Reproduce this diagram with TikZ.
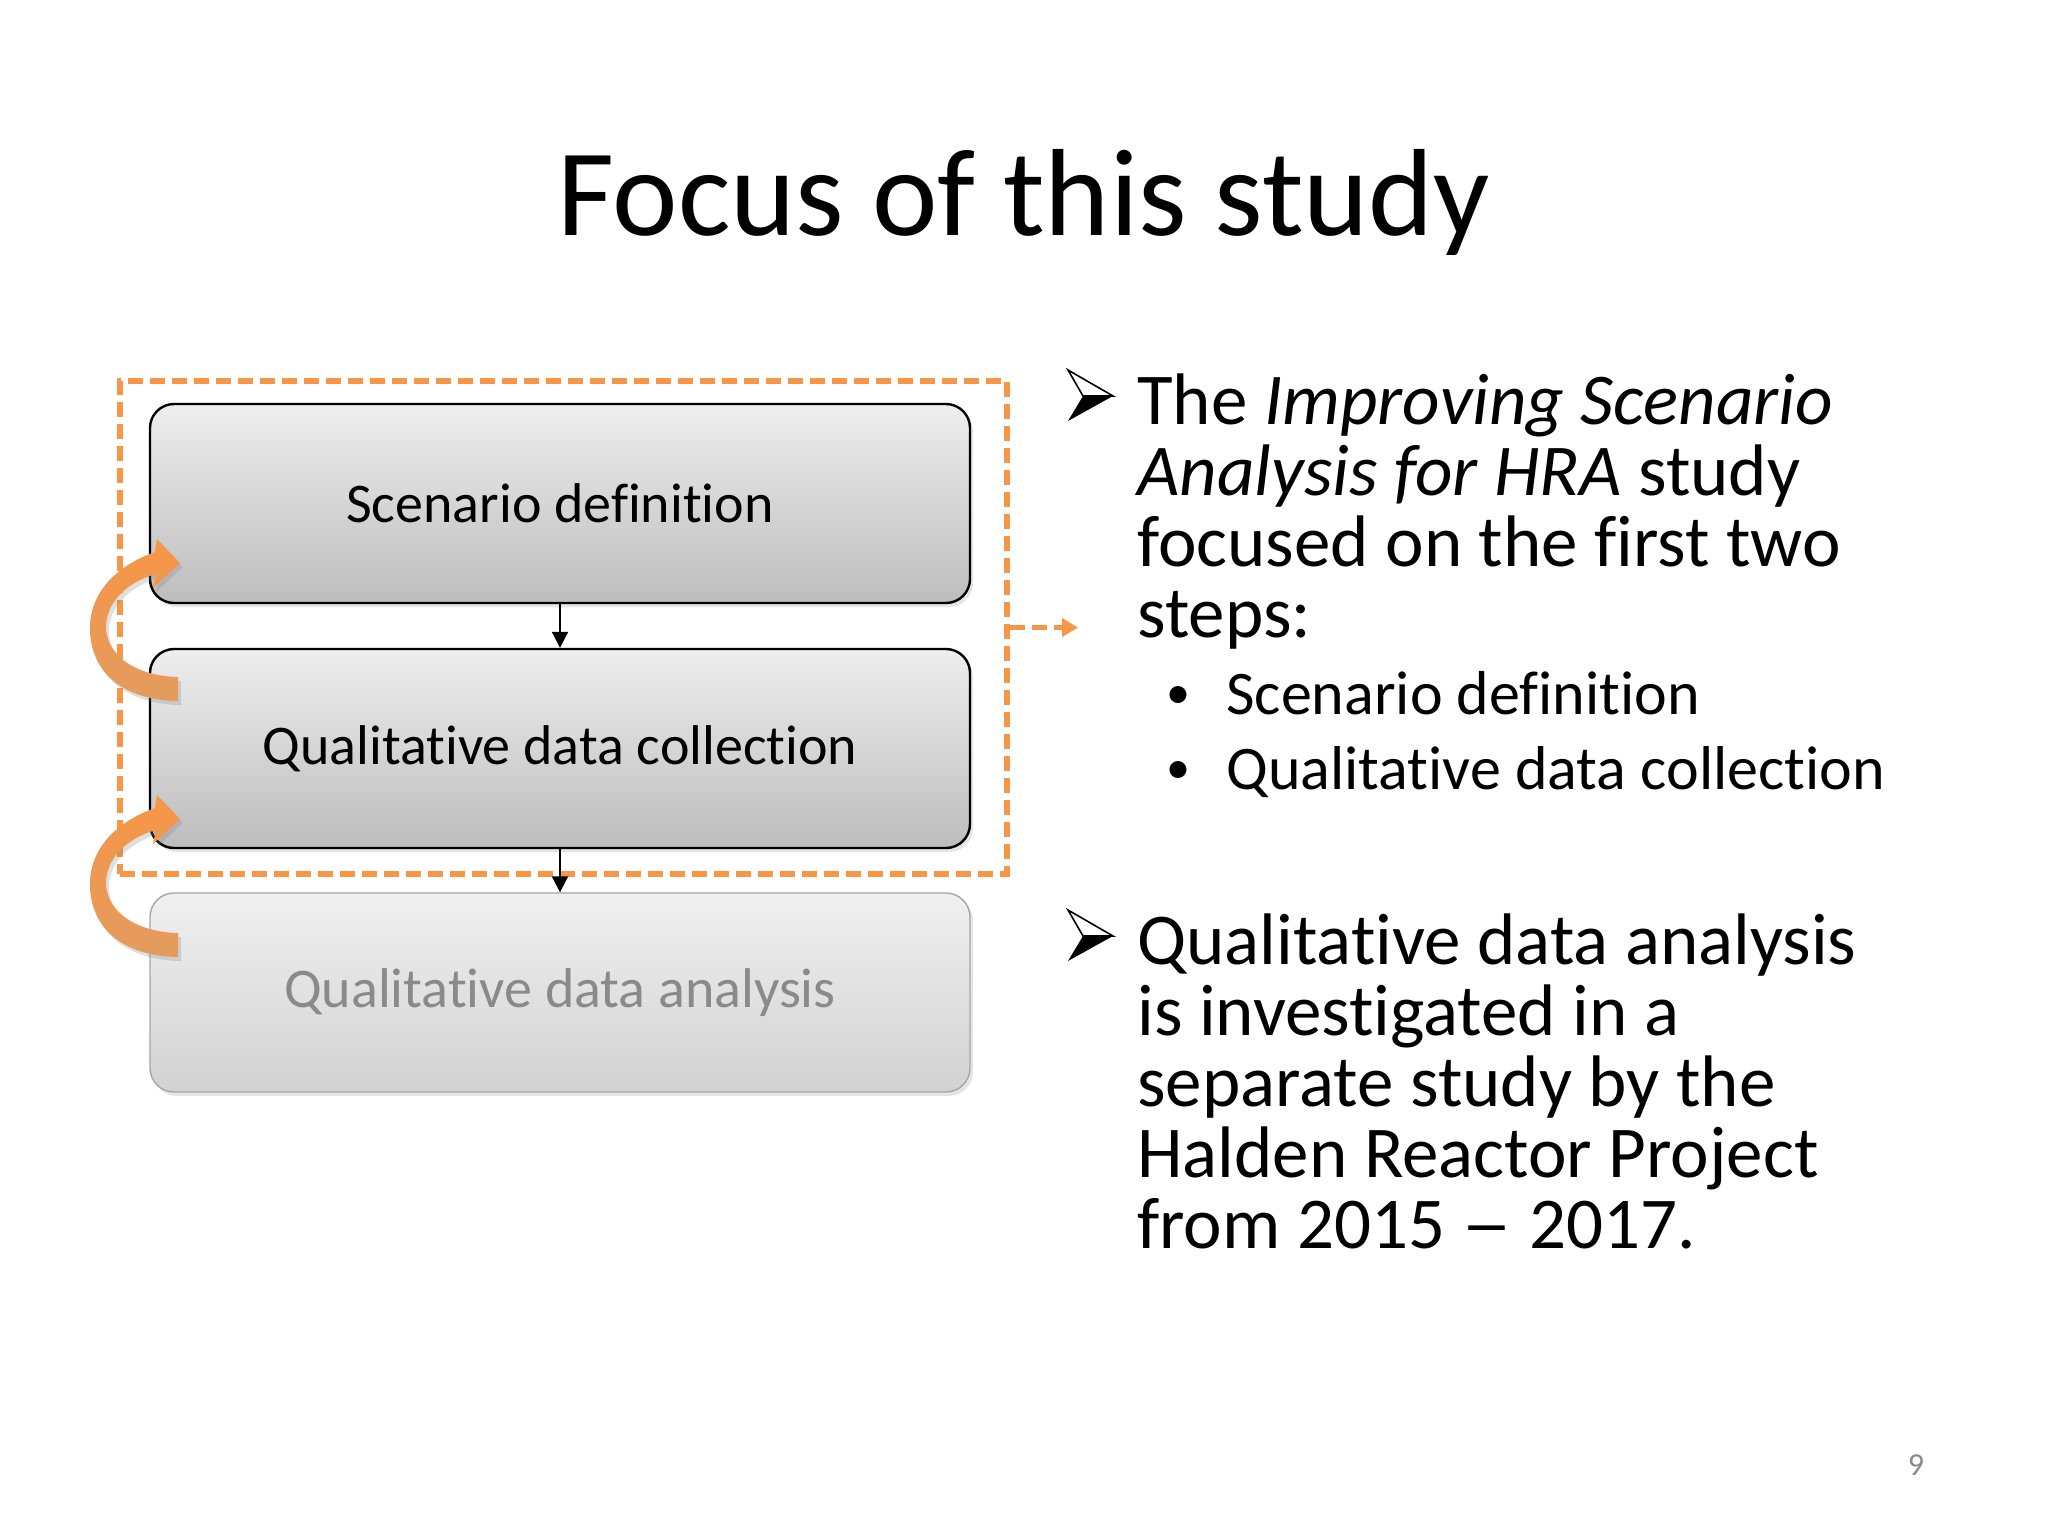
\documentclass[tikz,border=0pt]{standalone}
\usepackage{graphicx}
\usepackage{fontspec}
\setmainfont{Carlito}[Ligatures={TeX,NoCommon}]
\usetikzlibrary{arrows.meta,shadows}
\definecolor{orangeC}{HTML}{F79646}
\definecolor{orangeT}{HTML}{E39B5F}
\definecolor{boxTop}{HTML}{EEEEEE}
\definecolor{boxBot}{HTML}{BDBDBD}
\definecolor{fadeTop}{HTML}{F0F0F0}
\definecolor{fadeBot}{HTML}{D2D2D2}
\definecolor{fadeLine}{HTML}{A6A6A6}
\definecolor{fadeText}{HTML}{8A8A8A}
\newcommand\OrangeCurve{%
  \path[curvefill] (178,701) .. controls (118,700) and (89,668) .. (90,626)
    .. controls (91,591) and (118,565) .. (155,552) -- (157,539) -- (180,563)
    -- (153,588) -- (156,574) .. controls (130,581) and (107,600) .. (106,626)
    .. controls (105,652) and (132,676) .. (178,677) -- cycle;}
\newcommand\ArrowBullet{%
  \draw[line width=0.8pt, fill=white, line join=miter] (0,0) -- (45,26) -- (15,26) -- cycle;
  \fill (15,26) -- (45,26) -- (0,51) -- cycle;}
\begin{document}
\begin{tikzpicture}[x=0.5pt,y=-0.5pt,
  stepbox/.style={rectangle, rounded corners=12pt, draw=black, line width=1.2pt,
    top color=boxTop, bottom color=boxBot, minimum width=410pt, minimum height=99.5pt,
    font=\fontsize{28}{34}\selectfont,
    drop shadow={opacity=0.2,shadow xshift=1.5pt,shadow yshift=-2pt}},
  fadebox/.style={stepbox, draw=fadeLine, line width=0.7pt, top color=fadeTop,
    bottom color=fadeBot, text=fadeText},
  conn/.style={draw=black, line width=1pt, -{Triangle[width=8pt,length=8pt]}},
  focusframe/.style={draw=orangeC, line width=2.6pt, dash pattern=on 7.5pt off 3.5pt,
    minimum width=443.5pt, minimum height=246.5pt, inner sep=0pt},
  focusarrow/.style={draw=orangeC, line width=2.6pt, dash pattern=on 7.5pt off 3.5pt,
    -{Triangle[width=9pt,length=8pt]}},
  curvefill/.style={top color=orangeC, bottom color=orangeT, draw=none,
    drop shadow={opacity=0.25,shadow xshift=1.5pt,shadow yshift=-2pt}},
  body/.style={anchor=base west, inner sep=0pt, font=\fontsize{36.5}{40}\selectfont},
  sub/.style={anchor=base west, inner sep=0pt, font=\fontsize{31}{36}\selectfont},
  dot/.style={anchor=base west, inner sep=0pt, font=\fontsize{24}{28}\selectfont},
]
\useasboundingbox[fill=white] (0,0) rectangle (2048,1536);

% title
\node[anchor=base, inner sep=0pt, font=\fontsize{62}{74}\selectfont] (title) at (1024,235) {Focus of this study};

% focus frame
\node[focusframe] (focus) at (563.5,627.5) {};

% steps
\node[stepbox] (b1) at (560,503.5) {Scenario definition};
\node[stepbox] (b2) at (560,748.5) {Qualitative data collection};
\node[fadebox] (b3) at (560,992.5) {Qualitative data analysis};

\draw[conn] (b1.south) -- (b2.north);
\draw[conn] (b2.south) -- (b3.north);

\coordinate (fend) at (1078,627.5);
\draw[focusarrow] (focus.east) -- (fend);

% curved arrows
\OrangeCurve
\begin{scope}[shift={(0,256)}]\OrangeCurve\end{scope}

% right-hand text
\begin{scope}[shift={(1068,370)}]\ArrowBullet\end{scope}
\node[body] (t1) at (1137,424) {The \textit{Improving Scenario}};
\node[body] (t2) at (1137,495) {\textit{Analysis for HRA} study};
\node[body] (t3) at (1137,566) {focused on the first two};
\node[body] (t4) at (1137,637) {steps:};
\node[dot] (d1) at (1166,708) {•};
\node[sub] (s1) at (1226,714) {Scenario definition};
\node[dot] (d2) at (1166,783) {•};
\node[sub] (s2) at (1226,789) {Qualitative data collection};

\begin{scope}[shift={(1068,910)}]\ArrowBullet\end{scope}
\node[body] (u1) at (1137,964) {Qualitative data analysis};
\node[body] (u2) at (1137,1035) {is investigated in a};
\node[body] (u3) at (1137,1106) {separate study by the};
\node[body] (u4) at (1137,1177) {Halden Reactor Project};
\node[body] (u5) at (1137,1248) {from 2015 \scalebox{1.4}[1]{–} 2017.};

\node[text=fadeText, font=\fontsize{16}{19}\selectfont] (pagenum) at (1916,1465) {9};
\end{tikzpicture}
\end{document}
